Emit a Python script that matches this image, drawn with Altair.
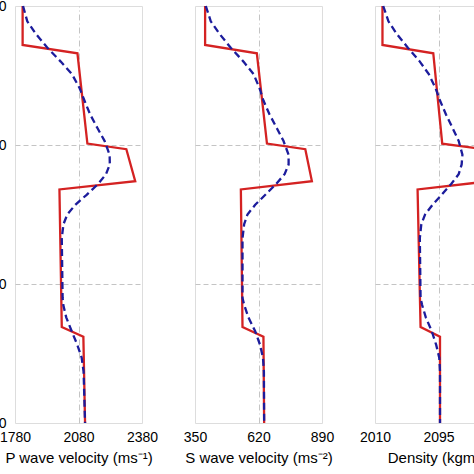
import altair as alt
import pandas as pd

# Depth samples (m) for the stepped model and the smoothed model
model_depth = [0, 28, 34, 99, 103, 126, 132, 231, 238, 300]
smooth_depth = [0, 11, 20, 30, 40, 49, 59, 68, 78, 88, 97, 107, 114, 121,
                128, 136, 143, 150, 157, 167, 210, 215, 224, 234, 244, 253,
                263, 300]

# P wave velocity
vp_model = [1816, 1816, 2075, 2122, 2306, 2348, 1990, 2001, 2103, 2111]
vp_smooth = [1818, 1838, 1878, 1933, 1996, 2049, 2085, 2108, 2135, 2170,
             2203, 2227, 2228, 2210, 2173, 2117, 2065, 2027, 2009, 2001,
             2005, 2008, 2022, 2048, 2075, 2095, 2104, 2111]

# S wave velocity
vs_model = [393, 393, 613, 656, 819, 847, 545, 552, 641, 644]
vs_smooth = [396, 417, 454, 502, 556, 599, 624, 641, 667, 698, 726, 748,
             748, 731, 695, 648, 606, 573, 559, 552, 552, 559, 577, 606,
             627, 639, 643, 644]

# Density
rho_model = [2020, 2020, 2088, 2100, 2155, 2164, 2067, 2071, 2097, 2097]
rho_smooth = [2021, 2028, 2039, 2054, 2070, 2082, 2091, 2097, 2105, 2114,
              2122, 2127, 2126, 2122, 2112, 2099, 2087, 2077, 2072, 2070,
              2071, 2073, 2078, 2086, 2092, 2096, 2097, 2097]

panels = [
    ("P wave velocity (ms\u207b\u00b9)", [1780, 2080, 2380], vp_model, vp_smooth),
    ("S wave velocity (ms\u207b\u00b2)", [350, 620, 890], vs_model, vs_smooth),
    ("Density (kgm\u207b\u00b3)", [2010, 2095, 2180], rho_model, rho_smooth),
]
depth_ticks = [0, 100, 200, 300]

FONT = "Liberation Sans, Arial, Helvetica, sans-serif"
RED = "#d42222"
BLUE = "#1c1c9c"
GRID = "#c4c4c4"


def frame(df):
    return df.reset_index().rename(columns={"index": "idx"})


def panel(title, ticks, model, smooth, first):
    lo, mid, hi = ticks
    model_df = frame(pd.DataFrame({"depth": model_depth, "value": model}))
    smooth_df = frame(pd.DataFrame({"depth": smooth_depth, "value": smooth}))

    x_enc = alt.X(
        "value:Q",
        scale=alt.Scale(domain=[lo, hi], nice=False, zero=False),
        axis=alt.Axis(
            values=ticks, title=title, format="d", labelFlush=False,
            ticks=False, domain=False, labelPadding=7, labelFontSize=14,
            titleFontSize=15, titleFontWeight="normal", titlePadding=6,
            grid=True, gridDash=[6, 3, 1, 3], gridColor=GRID,
            gridOpacity={"condition": {"test": f"datum.value == {mid}", "value": 1},
                         "value": 0},
        ),
    )
    y_enc = alt.Y(
        "depth:Q",
        scale=alt.Scale(domain=[0, 300], reverse=True, nice=False),
        axis=alt.Axis(
            values=depth_ticks, title=None, labels=first, format="d",
            ticks=False, domain=False, labelPadding=9, labelFontSize=14,
            grid=True, gridDash=[5, 3], gridColor=GRID,
            gridOpacity={"condition": {"test": "datum.value == 100 || datum.value == 200",
                                       "value": 1},
                         "value": 0},
        ),
    )

    red = alt.Chart(model_df).mark_line(color=RED, strokeWidth=2.3).encode(
        x=x_enc, y=y_enc, order="idx:Q"
    )
    blue = alt.Chart(smooth_df).mark_line(
        color=BLUE, strokeWidth=2.3, strokeDash=[7, 4]
    ).encode(x=x_enc, y=y_enc, order="idx:Q")
    return alt.layer(red, blue).properties(width=127, height=417)


charts = [panel(t, tk, m, s, i == 0) for i, (t, tk, m, s) in enumerate(panels)]

chart = (
    alt.hconcat(*charts, spacing=53, bounds="flush")
    .properties(padding={"left": -18, "top": -2, "right": -45, "bottom": 0})
    .configure_view(stroke="#858585", strokeWidth=1)
    .configure_axis(labelFont=FONT, titleFont=FONT, labelColor="#111111",
                    titleColor="#111111")
    .configure(background="white")
)

chart.save("out.html", embed_options={"renderer": "svg", "actions": False})
